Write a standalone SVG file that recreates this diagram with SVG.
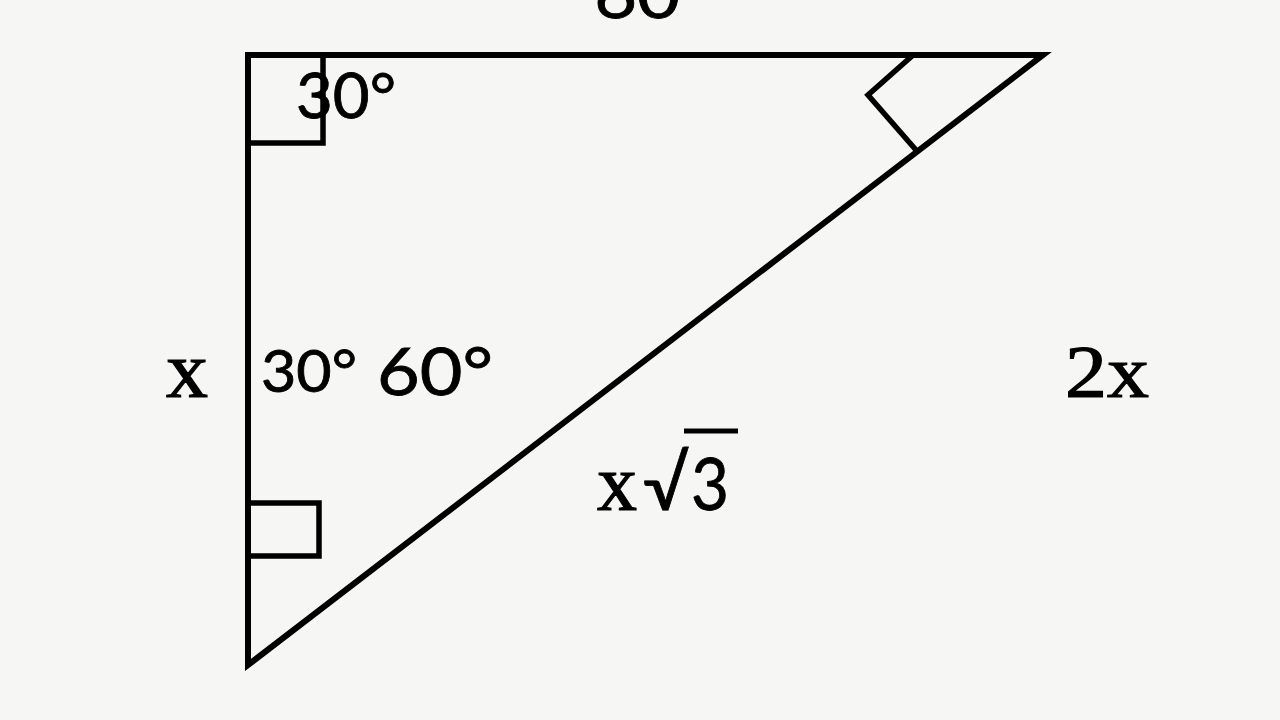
<svg xmlns="http://www.w3.org/2000/svg" width="1280" height="720" viewBox="0 0 1280 720">
<style>
.ln{fill:none;stroke:#000;stroke-width:6;stroke-linejoin:miter;stroke-linecap:square}
.mk{fill:none;stroke:#000;stroke-width:5.5}
.sans{font-family:"Lato","Open Sans","Liberation Sans",sans-serif;fill:#000;stroke:#000;stroke-width:0.8}
.serif{font-family:"Liberation Serif","DejaVu Serif",serif;fill:#000;stroke:#000;stroke-width:1.2}
</style>
<rect width="1280" height="720" fill="#f6f6f4"/>
<g id="triangle">
<polygon class="ln" points="248,55 1043,55 248,665"/>
</g>
<g id="markers">
<polyline class="mk" points="323,55 323,143 248,143"/>
<polyline class="mk" points="248,503 319,503 319,556 248,556"/>
<polyline class="mk" points="912,56 868,95 916,150"/>
</g>
<g id="labels">
<text class="sans" x="594" y="18" font-size="64" textLength="86" lengthAdjust="spacingAndGlyphs">60</text>
<text class="sans" x="296" y="118" font-size="62" textLength="100" lengthAdjust="spacingAndGlyphs">30°</text>
<text class="sans" x="261" y="392" font-size="58" textLength="96" lengthAdjust="spacingAndGlyphs">30°</text>
<text class="sans" x="377" y="395" font-size="66" textLength="116" lengthAdjust="spacingAndGlyphs">60°</text>
<text class="serif" x="166" y="397" font-size="80" textLength="42" lengthAdjust="spacingAndGlyphs">x</text>
<text class="serif" x="1065" y="397" font-size="74" textLength="84" lengthAdjust="spacingAndGlyphs">2x</text>
<text class="serif" x="597" y="510" font-size="80" textLength="40" lengthAdjust="spacingAndGlyphs">x</text>
<text class="sans" x="643" y="510" font-size="74" textLength="46" lengthAdjust="spacingAndGlyphs">√</text>
<line x1="684" y1="431" x2="738" y2="431" stroke="#000" stroke-width="5"/>
<text class="sans" x="691" y="510" font-size="72" textLength="38" lengthAdjust="spacingAndGlyphs">3</text>
</g>
</svg>
